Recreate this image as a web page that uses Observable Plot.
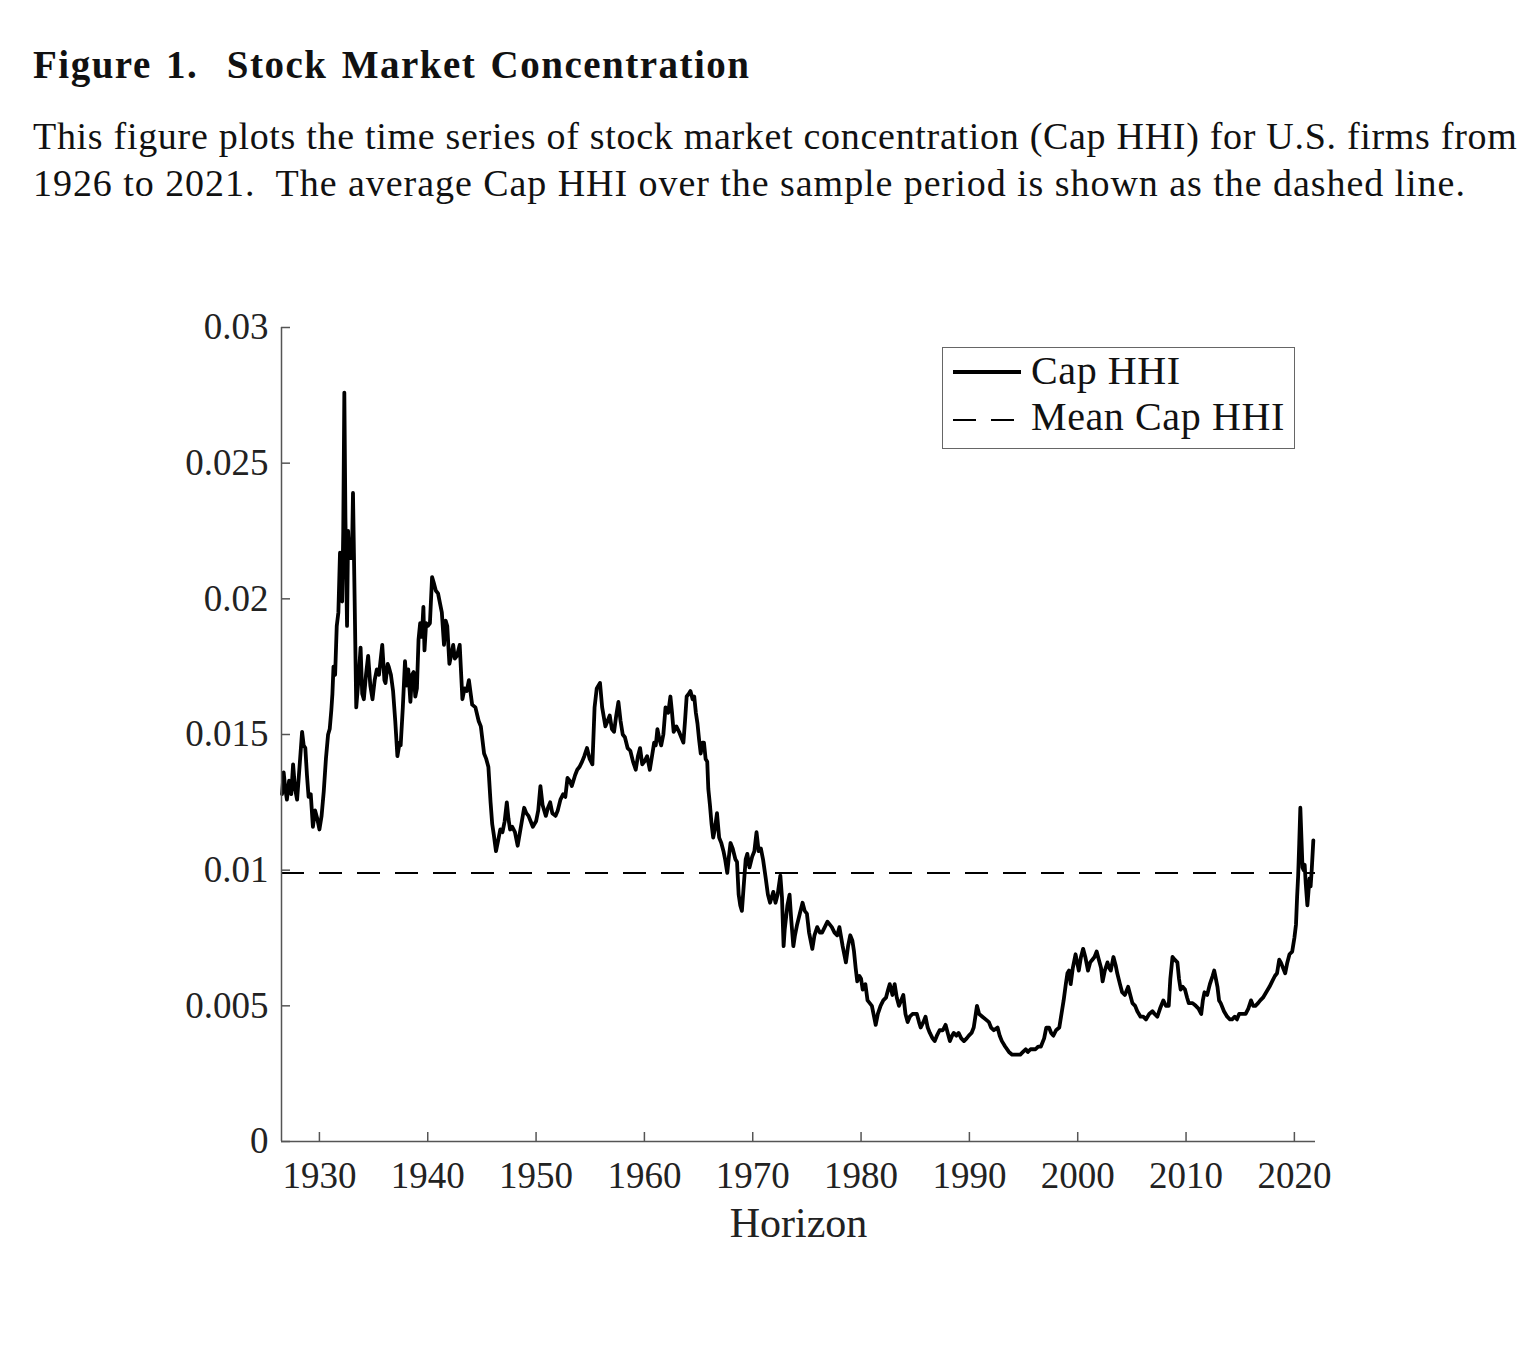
<!DOCTYPE html>
<html>
<head>
<meta charset="utf-8">
<script src="https://cdn.jsdelivr.net/npm/d3@7"></script>
<script src="https://cdn.jsdelivr.net/npm/@observablehq/plot@0.6"></script>
<style>
  html, body { margin: 0; padding: 0; background: #fff; }
  body { width: 1536px; height: 1360px; position: relative; font-family: "Liberation Serif", "DejaVu Serif", serif; color: #111; }
  #title { position: absolute; left: 33px; top: 42px; font-size: 39px; font-weight: bold; white-space: nowrap; letter-spacing: 1.5px; word-spacing: 3px; }
  #subtitle { position: absolute; left: 33px; top: 113px; font-size: 38px; line-height: 47px; white-space: nowrap; letter-spacing: 0.7px; }
  #subtitle .l2 { letter-spacing: 0.95px; }
  #chart { position: absolute; left: 0; top: 250px; }
  #legend { position: absolute; left: 942px; top: 347px; width: 353px; height: 102px; box-sizing: border-box; border: 1.5px solid #666; background: #fff; }
  #legend svg { position: absolute; left: 0; top: 0; }
  #legend .lab { position: absolute; left: 88px; font-size: 40px; color: #111; white-space: nowrap; line-height: 1; letter-spacing: 0.6px; }
</style>
</head>
<body>
<div id="title">Figure 1.&nbsp; Stock Market Concentration</div>
<div id="subtitle">This figure plots the time series of stock market concentration (Cap HHI) for U.S. firms from<br><span class="l2">1926 to 2021.&nbsp; The average Cap HHI over the sample period is shown as the dashed line.</span></div>
<div id="chart"></div>
<div id="legend">
  <svg width="353" height="102">
    <line x1="10" x2="78" y1="24" y2="24" stroke="#000" stroke-width="3.8"></line>
    <line x1="10" x2="78" y1="72" y2="72" stroke="#000" stroke-width="2" stroke-dasharray="23,15"></line>
  </svg>
  <div class="lab" style="top:3px">Cap HHI</div>
  <div class="lab" style="top:49px">Mean Cap HHI</div>
</div>
<script>
// ---- data ----
const years = [
1926.55,1926.7,1926.85,1927.0,1927.2,1927.4,1927.57,1927.75,1927.94,1928.2,1928.4,1928.55,1928.7,1928.85,1929.0,1929.2,1929.4,1929.6,1929.8,1930.0,
1930.2,1930.4,1930.6,1930.8,1930.95,1931.1,1931.2,1931.3,1931.45,1931.6,1931.75,1931.9,1932.0,1932.1,1932.2,1932.3,1932.4,1932.55,1932.65,1932.75,
1932.9,1933.0,1933.1,1933.25,1933.4,1933.6,1933.8,1933.95,1934.1,1934.3,1934.5,1934.7,1934.9,1935.1,1935.3,1935.5,1935.8,1936.0,1936.1,1936.3,
1936.4,1936.6,1936.8,1937.0,1937.2,1937.4,1937.5,1937.7,1937.9,1938.05,1938.2,1938.4,1938.55,1938.7,1938.85,1939.0,1939.15,1939.3,1939.45,1939.6,
1939.7,1939.85,1940.0,1940.2,1940.4,1940.55,1940.75,1940.95,1941.1,1941.3,1941.5,1941.65,1941.8,1942.0,1942.2,1942.35,1942.5,1942.7,1942.95,1943.2,
1943.4,1943.6,1943.8,1944.1,1944.4,1944.7,1944.9,1945.2,1945.4,1945.6,1945.8,1945.95,1946.1,1946.3,1946.5,1946.7,1946.9,1947.1,1947.3,1947.45,
1947.6,1947.8,1948.05,1948.3,1948.6,1948.9,1949.1,1949.3,1949.5,1949.7,1950.0,1950.2,1950.4,1950.6,1950.9,1951.1,1951.3,1951.5,1951.8,1952.0,
1952.25,1952.5,1952.7,1952.9,1953.1,1953.3,1953.6,1953.8,1954.0,1954.25,1954.45,1954.7,1954.95,1955.2,1955.4,1955.6,1955.9,1956.1,1956.4,1956.6,
1956.8,1957.0,1957.2,1957.4,1957.6,1957.8,1958.0,1958.2,1958.45,1958.7,1958.95,1959.2,1959.4,1959.6,1959.8,1960.0,1960.25,1960.5,1960.7,1960.9,
1961.05,1961.2,1961.4,1961.55,1961.75,1961.95,1962.2,1962.4,1962.55,1962.7,1962.95,1963.2,1963.4,1963.6,1963.75,1963.9,1964.1,1964.25,1964.45,1964.6,
1964.75,1964.9,1965.05,1965.2,1965.35,1965.5,1965.65,1965.8,1965.9,1966.05,1966.2,1966.35,1966.5,1966.7,1966.9,1967.1,1967.3,1967.45,1967.65,1967.8,
1967.95,1968.15,1968.4,1968.55,1968.7,1968.85,1969.0,1969.2,1969.35,1969.5,1969.7,1969.95,1970.15,1970.35,1970.55,1970.75,1970.95,1971.2,1971.4,1971.6,
1971.75,1971.9,1972.1,1972.3,1972.55,1972.7,1972.85,1972.95,1973.2,1973.4,1973.55,1973.75,1973.9,1974.1,1974.35,1974.6,1974.8,1975.0,1975.2,1975.5,
1975.7,1975.95,1976.2,1976.4,1976.65,1976.9,1977.1,1977.3,1977.55,1977.8,1978.0,1978.3,1978.6,1978.8,1979.0,1979.2,1979.35,1979.5,1979.65,1979.85,
1980.0,1980.15,1980.4,1980.6,1980.8,1981.0,1981.2,1981.35,1981.55,1981.8,1982.05,1982.3,1982.5,1982.65,1982.9,1983.1,1983.3,1983.5,1983.7,1983.9,
1984.1,1984.3,1984.5,1984.75,1984.95,1985.15,1985.35,1985.5,1985.75,1985.95,1986.15,1986.35,1986.6,1986.8,1987.0,1987.25,1987.55,1987.8,1988.0,1988.2,
1988.4,1988.55,1988.8,1989.0,1989.25,1989.5,1989.75,1989.95,1990.2,1990.4,1990.55,1990.7,1990.9,1991.2,1991.5,1991.8,1992.0,1992.25,1992.6,1992.8,
1993.0,1993.3,1993.65,1993.95,1994.25,1994.5,1994.7,1994.95,1995.2,1995.4,1995.65,1995.9,1996.1,1996.35,1996.6,1996.9,1997.1,1997.35,1997.55,1997.75,
1998.0,1998.3,1998.5,1998.7,1998.9,1999.05,1999.2,1999.35,1999.55,1999.8,1999.95,2000.1,2000.3,2000.5,2000.7,2000.95,2001.15,2001.35,2001.55,2001.75,
2001.95,2002.15,2002.3,2002.5,2002.75,2002.9,2003.05,2003.3,2003.5,2003.65,2003.9,2004.1,2004.35,2004.65,2004.85,2005.05,2005.3,2005.5,2005.8,2006.05,
2006.3,2006.6,2006.9,2007.1,2007.35,2007.6,2007.9,2008.15,2008.4,2008.55,2008.75,2008.95,2009.2,2009.35,2009.5,2009.7,2009.9,2010.1,2010.25,2010.6,
2010.9,2011.15,2011.4,2011.55,2011.7,2011.95,2012.2,2012.45,2012.6,2012.75,2012.9,2013.05,2013.2,2013.5,2013.8,2014.05,2014.25,2014.5,2014.7,2014.9,
2015.2,2015.5,2015.75,2016.0,2016.2,2016.4,2016.65,2016.85,2017.1,2017.4,2017.7,2017.95,2018.2,2018.4,2018.6,2018.75,2018.95,2019.15,2019.35,2019.55,
2019.8,2020.0,2020.15,2020.25,2020.35,2020.45,2020.55,2020.65,2020.75,2020.85,2020.95,2021.05,2021.2,2021.3,2021.4,2021.5,2021.6,2021.75
];
const capHHI = [
0.0128,0.0136,0.0130,0.0126,0.0133,0.0128,0.0139,0.0130,0.0126,0.0140,0.0151,0.0146,0.0145,0.0135,0.0127,0.0128,0.0116,0.0122,0.0119,0.0115,
0.0120,0.0129,0.0141,0.0150,0.0152,0.0159,0.0165,0.0175,0.0172,0.0190,0.0195,0.0217,0.0210,0.0199,0.0225,0.0276,0.0230,0.0190,0.0225,0.0215,
0.0222,0.0215,0.0239,0.0200,0.0160,0.0170,0.0182,0.0165,0.0163,0.0172,0.0179,0.0168,0.0163,0.0170,0.0174,0.0172,0.0183,0.0170,0.0169,0.0176,
0.0175,0.0172,0.0166,0.0155,0.0142,0.0147,0.0146,0.0160,0.0177,0.0168,0.0174,0.0162,0.0172,0.0173,0.0164,0.0167,0.0185,0.0191,0.0186,0.0197,
0.0181,0.0191,0.0190,0.0191,0.0208,0.0206,0.0203,0.0202,0.0199,0.0195,0.0183,0.0192,0.0190,0.0176,0.0180,0.0183,0.0178,0.0179,0.0183,0.0163,
0.0167,0.0166,0.0170,0.0161,0.0160,0.0155,0.0153,0.0143,0.0141,0.0138,0.0125,0.0117,0.0113,0.0107,0.0111,0.0115,0.0114,0.0118,0.0125,0.0119,
0.0115,0.0116,0.0114,0.0109,0.0116,0.0123,0.0121,0.0120,0.0118,0.0116,0.0118,0.0122,0.0131,0.0124,0.0120,0.0123,0.0125,0.0121,0.0120,0.0122,
0.0126,0.0128,0.0127,0.0134,0.0133,0.0131,0.0135,0.0137,0.0138,0.0140,0.0142,0.0145,0.0141,0.0139,0.0160,0.0167,0.0169,0.0160,0.0153,0.0155,
0.0157,0.0152,0.0151,0.0157,0.0162,0.0155,0.0150,0.0149,0.0145,0.0144,0.0140,0.0137,0.0142,0.0145,0.0139,0.0140,0.0142,0.0137,0.0142,0.0147,
0.0146,0.0152,0.0148,0.0146,0.0150,0.0160,0.0158,0.0164,0.0158,0.0151,0.0153,0.0151,0.0149,0.0147,0.0155,0.0164,0.0165,0.0166,0.0163,0.0164,
0.0158,0.0154,0.0148,0.0143,0.0147,0.0147,0.0141,0.0140,0.0130,0.0124,0.0117,0.0112,0.0115,0.0121,0.0112,0.0110,0.0107,0.0104,0.0099,0.0105,
0.0110,0.0108,0.0104,0.0103,0.0091,0.0087,0.0085,0.0096,0.0104,0.0106,0.0101,0.0105,0.0107,0.0114,0.0107,0.0108,0.0104,0.0097,0.0091,0.0088,
0.0090,0.0092,0.0088,0.0091,0.0098,0.0090,0.0072,0.0078,0.0087,0.0091,0.0082,0.0072,0.0076,0.0080,0.0084,0.0088,0.0085,0.0084,0.0077,0.0071,
0.0076,0.0079,0.0077,0.0077,0.0079,0.0081,0.0080,0.0079,0.0077,0.0076,0.0079,0.0072,0.0066,0.0072,0.0076,0.0074,0.0070,0.0064,0.0059,0.0061,
0.0060,0.0056,0.0058,0.0052,0.0051,0.0050,0.0046,0.0043,0.0047,0.0050,0.0052,0.0053,0.0056,0.0058,0.0054,0.0058,0.0053,0.0050,0.0052,0.0054,
0.0047,0.0044,0.0046,0.0047,0.0047,0.0047,0.0044,0.0042,0.0044,0.0046,0.0042,0.0040,0.0038,0.0037,0.0039,0.0041,0.0041,0.0043,0.0040,0.0037,
0.0039,0.0040,0.0039,0.0040,0.0038,0.0037,0.0038,0.0039,0.0040,0.0042,0.0046,0.0050,0.0047,0.0046,0.0045,0.0044,0.0042,0.0041,0.0042,0.0039,
0.0037,0.0035,0.0033,0.0032,0.0032,0.0032,0.0032,0.0033,0.0034,0.0033,0.0034,0.0034,0.0034,0.0035,0.0035,0.0038,0.0042,0.0042,0.0040,0.0039,
0.0041,0.0042,0.0047,0.0052,0.0058,0.0062,0.0063,0.0058,0.0064,0.0069,0.0066,0.0063,0.0068,0.0071,0.0068,0.0063,0.0066,0.0067,0.0068,0.0070,
0.0067,0.0064,0.0059,0.0063,0.0066,0.0064,0.0063,0.0068,0.0065,0.0062,0.0058,0.0055,0.0054,0.0057,0.0054,0.0051,0.0050,0.0048,0.0046,0.0046,
0.0045,0.0047,0.0048,0.0047,0.0046,0.0049,0.0052,0.0050,0.0050,0.0060,0.0068,0.0067,0.0066,0.0060,0.0056,0.0057,0.0056,0.0053,0.0051,0.0051,
0.0050,0.0049,0.0047,0.0052,0.0055,0.0054,0.0058,0.0061,0.0063,0.0060,0.0057,0.0052,0.0051,0.0048,0.0046,0.0045,0.0045,0.0046,0.0045,0.0047,
0.0047,0.0047,0.0049,0.0052,0.0050,0.0050,0.0051,0.0052,0.0053,0.0055,0.0057,0.0059,0.0061,0.0062,0.0067,0.0066,0.0064,0.0062,0.0066,0.0069,
0.0070,0.0075,0.0080,0.0090,0.0098,0.0110,0.0123,0.0112,0.0101,0.0100,0.0102,0.0095,0.0087,0.0092,0.0097,0.0094,0.0100,0.0111
];
const meanCapHHI = 0.0099;
const xDomain = [1926.5, 2021.95];
const yDomain = [0, 0.03];
const xTicks = [1930, 1940, 1950, 1960, 1970, 1980, 1990, 2000, 2010, 2020];
const yTicks = [0, 0.005, 0.01, 0.015, 0.02, 0.025, 0.03];
const yTickLabels = ["0", "0.005", "0.01", "0.015", "0.02", "0.025", "0.03"];
const xLabel = "Horizon";

const series = years.map((t, i) => ({t, v: capHHI[i]}));

const W = 1536, H = 1050;
const mL = 281, mR = 221, mT = 77, mB = 159;
const frameW = W - mL - mR, frameH = H - mT - mB;
const tickLen = 9;
const axisColor = "#555";

const chart = Plot.plot({
  width: W, height: H,
  marginLeft: mL, marginRight: mR, marginTop: mT, marginBottom: mB,
  x: {domain: xDomain},
  y: {domain: yDomain},
  style: {fontFamily: "'Liberation Serif', 'DejaVu Serif', serif", fontSize: "37px", color: "#222", background: "transparent"},
  marks: [
    Plot.axisX(xTicks, {tickSize: 0, tickPadding: 20, tickFormat: d => String(d), label: null, fontSize: 37}),
    Plot.axisY(yTicks, {tickSize: 0, tickPadding: 13, tickFormat: d => yTickLabels[yTicks.indexOf(d)], label: null, fontSize: 37}),
    Plot.ruleX(xTicks, {stroke: axisColor, strokeWidth: 1.5, insetTop: frameH - tickLen}),
    Plot.ruleY(yTicks, {stroke: axisColor, strokeWidth: 1.5, insetRight: frameW - tickLen}),
    Plot.ruleY([meanCapHHI], {stroke: "#000", strokeWidth: 2, strokeDasharray: "23,15"}),
    Plot.line(series, {x: "t", y: "v", stroke: "#000", strokeWidth: 3.8, strokeLinejoin: "round"}),
    Plot.ruleY([yDomain[0]], {stroke: axisColor, strokeWidth: 1.5}),
    Plot.ruleX([xDomain[0]], {stroke: axisColor, strokeWidth: 1.5}),
    Plot.text([xLabel], {frameAnchor: "bottom", dy: 95, fontSize: 42, fill: "#222"})
  ]
});
document.getElementById("chart").appendChild(chart);
</script>
</body>
</html>
